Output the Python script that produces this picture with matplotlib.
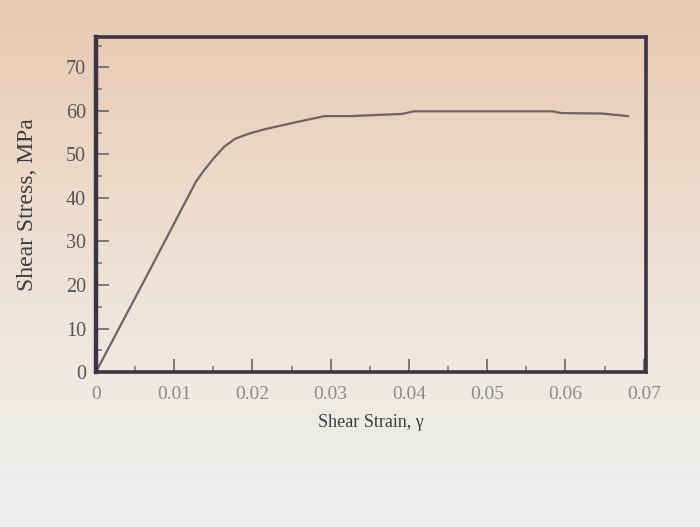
import numpy as np
import matplotlib
matplotlib.use("Agg")
import matplotlib.pyplot as plt
from matplotlib.ticker import MultipleLocator
from matplotlib.colors import LinearSegmentedColormap

# data
strain = [0.0, 0.0067, 0.0128, 0.0138, 0.0150, 0.0164, 0.0178, 0.0196, 0.0216, 0.0258, 0.0292,
          0.0326, 0.0351, 0.0391, 0.0406, 0.0583, 0.0595, 0.0646, 0.0680]
stress = [0.0, 22.8, 43.8, 46.3, 49.0, 51.8, 53.6, 54.8, 55.8, 57.5, 58.8,
          58.8, 59.0, 59.3, 59.9, 59.9, 59.5, 59.4, 58.8]
xticks = [0.0, 0.01, 0.02, 0.03, 0.04, 0.05, 0.06, 0.07]
xticklabels = ["0", "0.01", "0.02", "0.03", "0.04", "0.05", "0.06", "0.07"]
yticks = [0, 10, 20, 30, 40, 50, 60, 70]

fig = plt.figure(figsize=(7, 5.27), dpi=100)

# photographed-screen background gradient
bg = fig.add_axes([0, 0, 1, 1], zorder=-10)
cmap = LinearSegmentedColormap.from_list("bg", ["#ecf0ee", "#efe8e0", "#edd9c8", "#e8c9b2"])
grad = np.linspace(0, 1, 256).reshape(-1, 1)
bg.imshow(grad, aspect="auto", cmap=cmap, origin="lower", extent=[0, 1, 0, 1])
bg.axis("off")

ax = fig.add_axes([0.137, 0.294, 0.786, 0.636])
ax.set_facecolor("none")
ax.plot(strain, stress, color="#6e6464", lw=1.6)

ax.set_xlim(0, 0.0703)
ax.set_ylim(0, 77)
ax.set_xticks(xticks)
ax.set_xticklabels(xticklabels)
ax.set_yticks(yticks)
ax.xaxis.set_minor_locator(MultipleLocator(0.005))
ax.yaxis.set_minor_locator(MultipleLocator(5))

serif = ["Liberation Serif", "DejaVu Serif"]
ax.tick_params(which="major", direction="in", length=9.5, width=1.3, color="#707070")
ax.tick_params(which="minor", direction="in", length=4.5, width=1.1, color="#707070")
ax.tick_params(axis="x", which="major", pad=10)
ax.tick_params(axis="y", which="major", pad=7)
for lab in ax.get_xticklabels():
    lab.set_fontfamily(serif)
    lab.set_fontsize(14)
    lab.set_color("#8a8a8e")
for lab in ax.get_yticklabels():
    lab.set_fontfamily(serif)
    lab.set_fontsize(14.5)
    lab.set_color("#55555a")

for side, sp in ax.spines.items():
    sp.set_color("#3a3444")
    sp.set_linewidth(3.2 if side == "left" else 2.6)

ax.set_ylabel("Shear Stress, MPa", fontfamily=serif, fontsize=17, color="#3c3c40", labelpad=20)
ax.set_xlabel("Shear Strain, γ", fontfamily=serif, fontsize=13, color="#3c3c40", labelpad=8)

fig.savefig("out.png", dpi=100)
